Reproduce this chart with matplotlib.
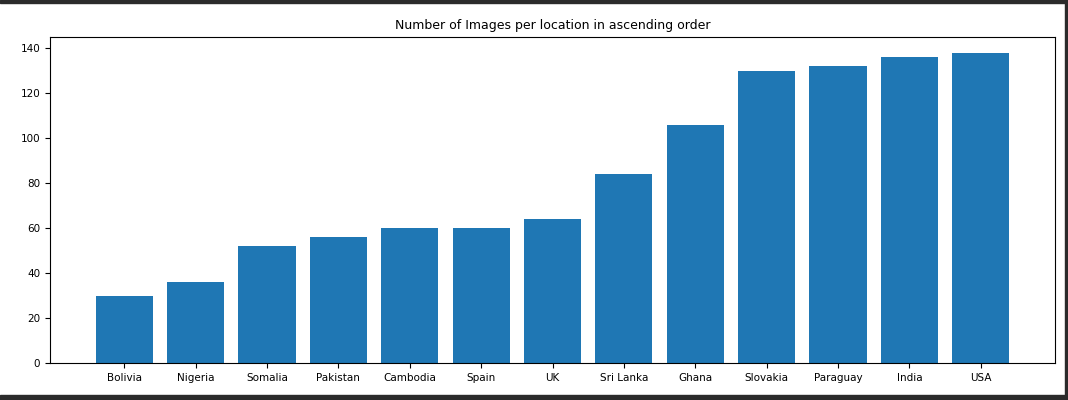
import matplotlib
matplotlib.use("Agg")
import matplotlib.pyplot as plt
from matplotlib.patches import Rectangle

countries = ["Bolivia","Nigeria","Somalia","Pakistan","Cambodia","Spain","UK","Sri Lanka","Ghana","Slovakia","Paraguay","India","USA"]
counts = [30,36,52,56,60,60,64,84,106,130,132,136,138]

W, H = 1068, 400
fig = plt.figure(figsize=(10.68,4), dpi=100)
dark = "#2b2b2b"
# screenshot frame
fig.patches.append(Rectangle((0, 1-3/H), 1, 3/H, transform=fig.transFigure, color=dark, zorder=10))
fig.patches.append(Rectangle((1-3/W, 0), 3/W, 1, transform=fig.transFigure, color=dark, zorder=10))
fig.patches.append(Rectangle((0, 0), 1, 5/H, transform=fig.transFigure, color=dark, zorder=10))

ax = fig.add_axes([50/W, 1-363/H, (1055-50)/W, (363-37)/H])
ax.bar(countries, counts, color="#1f77b4")
ax.set_title("Number of Images per location in ascending order", fontsize=9)
ax.set_yticks(range(0,141,20))
ax.tick_params(labelsize=7.5)
fig.savefig("out.png", dpi=100)
